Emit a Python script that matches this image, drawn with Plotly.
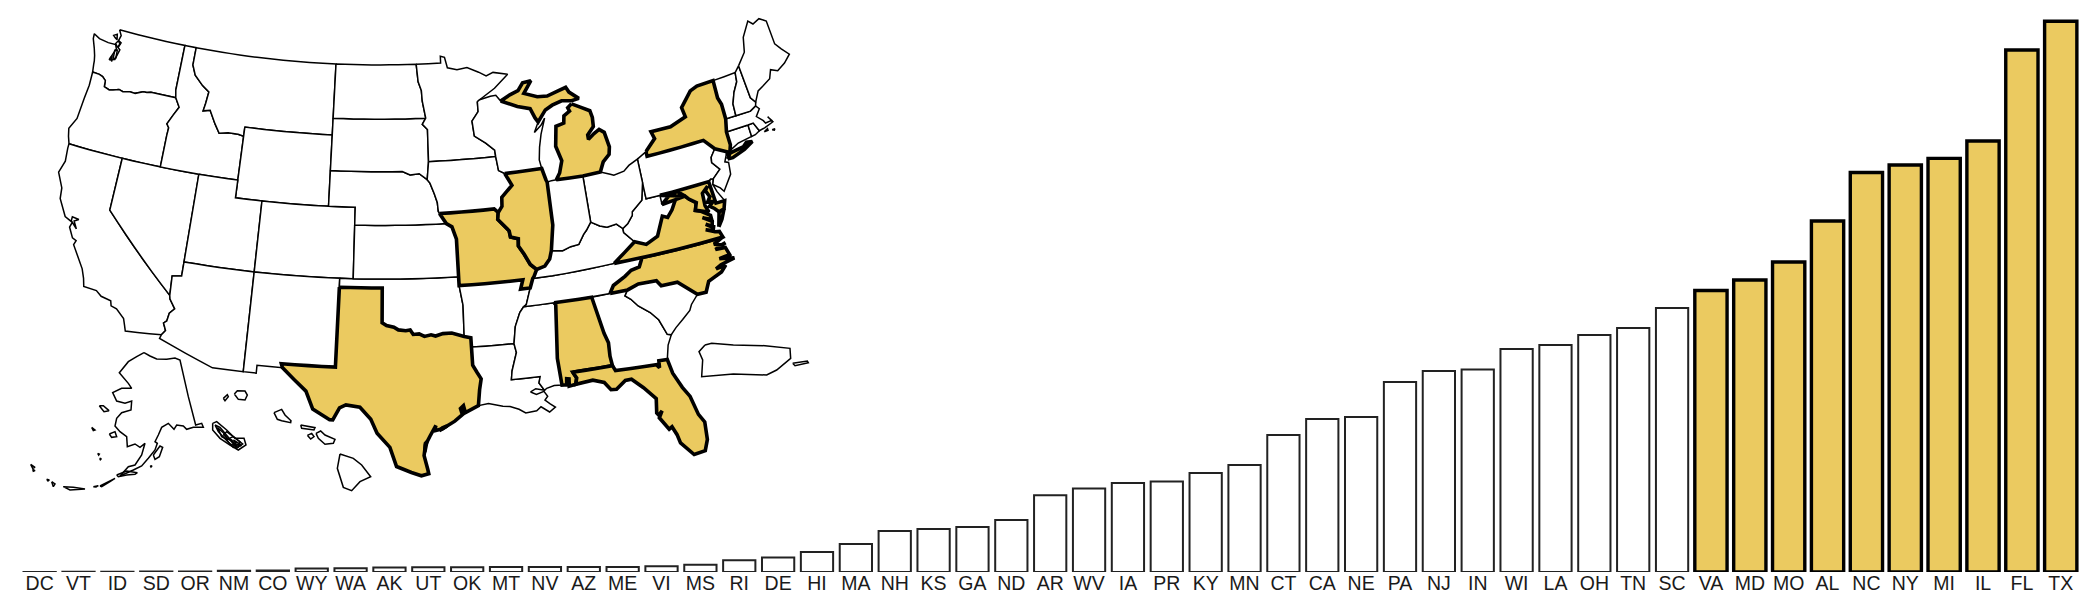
import numpy as np
import plotly.graph_objects as go

# ---------- bar data (height, in arbitrary units) ----------
CODES = ["DC","VT","ID","SD","OR","NM","CO","WY","WA","AK","UT","OK","MT","NV","AZ","ME","VI","MS","RI","DE","HI",
         "MA","NH","KS","GA","ND","AR","WV","IA","PR","KY","MN","CT","CA","NE","PA","NJ","IN","WI","LA","OH","TN","SC",
         "VA","MD","MO","AL","NC","NY","MI","IL","FL","TX"]
VALUES = [0.1,0.2,0.3,0.4,0.6,1.2,1.5,3.6,3.8,4.5,4.7,4.8,5,5,5,5,5.7,7.2,11.7,14.4,20,
          28,41,43,45,52,76.7,83.4,89,90.5,99,107,137,153,155,190,201,202.6,223,227,237,244,264,
          281.5,292,310,351,399.5,407,413.6,431,522,550.7]
HIGHLIGHT = ["VA","MD","MO","AL","NC","NY","MI","IL","FL","TX"]
GOLD = "#EBCA60"

# ---------- state outlines, lon/lat ----------
COL = [(-123.98,46.27),(-123.4,46.25),(-123.1,46.18),(-122.8,46.0),(-122.75,45.65),(-122.3,45.55),(-122.0,45.6),(-121.55,45.72),
       (-121.2,45.65),(-120.65,45.74),(-120.2,45.73),(-119.6,45.92),(-119.3,45.93),(-118.98,46.0),(-116.92,45.995)]
SNAKE = [(-116.92,45.995),(-116.5,45.5),(-116.85,45.0),(-117.2,44.45),(-117.0,44.25),(-117.03,43.8),(-117.03,42.0)]
IDMT = [(-116.05,48.0),(-115.7,47.45),(-114.95,46.95),(-114.35,46.65),(-114.45,46.0),(-114.55,45.55),(-114.0,45.65),(-113.45,44.95),(-113.0,44.45),(-112.3,44.55),(-111.5,44.55),(-111.05,44.48)]
LOWCO = [(-114.63,35.0),(-114.57,34.8),(-114.14,34.3),(-114.45,34.0),(-114.53,33.55),(-114.72,33.4),(-114.5,33.0),(-114.72,32.72)]
RED = [(-100,34.56),(-99.7,34.4),(-99.2,34.3),(-98.9,34.15),(-98.4,34.1),(-98.1,34.13),(-97.9,33.88),(-97.5,33.9),(-97.15,33.75),(-96.7,33.83),(-96.4,33.75),(-95.9,33.87),(-95.3,33.88),(-94.48,33.64)]
SABINE = [(-94.04,32.0),(-93.8,31.6),(-93.55,31.2),(-93.7,30.6),(-93.75,30.3),(-93.85,29.7)]
MORIV = [(-96.6,42.5),(-96.4,42.3),(-96.1,41.7),(-95.9,41.2),(-95.85,40.7),(-95.77,40.58)]
MISS1 = [(-92.75,44.75),(-91.9,44.3),(-91.25,43.85),(-91.22,43.5),(-91.1,42.7),(-90.65,42.5)]
MISS2 = [(-90.65,42.5),(-90.2,41.8),(-91.05,41.2),(-91.1,40.7),(-91.42,40.38)]
MISS3 = [(-91.42,40.38),(-91.5,40.0),(-90.75,39.3),(-90.7,38.95),(-90.15,38.8),(-90.2,38.4),(-89.85,37.9),(-89.5,37.3),(-89.1,36.98)]
MISS5 = [(-90.3,35.0),(-90.6,34.7),(-91.0,33.95),(-91.2,33.0)]
MISS6 = [(-91.2,33.0),(-91.1,32.5),(-91.5,31.5),(-91.6,31.0)]
OHIOW = [(-84.8,39.1),(-85.2,38.7),(-85.45,38.5),(-85.9,38.0),(-86.5,37.95),(-87.1,37.8),(-87.9,37.9)]
OHIOE = [(-82.6,38.4),(-83.0,38.72),(-83.7,38.65),(-84.2,38.8),(-84.8,39.1)]
OHIOC = [(-80.52,40.64),(-80.85,39.7),(-81.7,39.2),(-81.75,39.0),(-82.2,38.6),(-82.6,38.4)]
WAB = [(-87.9,37.9),(-88.1,37.45),(-88.5,37.1),(-89.1,36.98)]
NCTN = [(-81.68,36.59),(-82.0,36.12),(-82.6,36.03),(-83.1,35.77),(-84.0,35.4),(-84.32,35.0)]
GASC = [(-83.1,35.0),(-83.35,34.7),(-83.0,34.45),(-82.6,34.0),(-81.9,33.5),(-81.45,33.0),(-81.1,32.1),(-80.85,32.03)]
NCSC = [(-83.1,35.0),(-82.3,35.2),(-81.05,35.15),(-80.8,34.82),(-79.67,34.8),(-78.55,33.86)]
VAWV = [(-81.97,37.54),(-81.2,37.25),(-80.3,37.55),(-79.65,38.57),(-79.3,38.42),(-78.87,38.77),(-78.35,39.4),(-77.72,39.32)]
POTO = [(-76.3,37.9),(-76.95,38.3),(-77.25,38.4),(-77.05,38.8),(-77.5,39.1),(-77.72,39.32)]
WVMD = [(-77.72,39.32),(-78.2,39.68),(-78.8,39.6),(-79.48,39.2),(-79.48,39.72)]
DELR = [(-74.7,41.36),(-75.13,40.97),(-75.2,40.68),(-74.75,40.2),(-75.4,39.8)]
AL_GA = [(-85.6,34.98),(-85.18,32.87),(-85.0,32.3),(-85.05,31.55),(-85.0,31.0)]
VTNH = [(-71.5,45.01),(-71.6,44.5),(-72.05,44.0),(-72.4,43.4),(-72.46,42.73)]
R = lambda l: l[::-1]

STATES = {
 "WA": [[(-122.76,49.0),(-117.03,49.0),(-117.04,46.42)] + R(COL) + [(-124.07,46.7),(-124.1,46.9),(-124.2,47.2),(-124.4,47.6),(-124.7,48.1),(-124.73,48.38),(-124.2,48.2),(-123.4,48.12),(-122.76,48.13),(-122.6,47.9),(-122.75,47.6),(-122.95,47.2),(-122.5,47.3),(-122.4,47.6),(-122.3,47.9),(-122.5,48.0),(-122.35,48.3),(-122.6,48.4),(-122.5,48.7),(-122.76,49.0)],
        [(-122.65,47.3),(-122.45,47.4),(-122.5,47.85),(-122.7,47.8)],[(-122.55,48.0),(-122.42,48.22),(-122.62,48.38),(-122.78,48.18)],
        [(-122.95,48.5),(-122.75,48.42),(-122.85,48.72),(-123.12,48.6)],[(-122.9,47.3),(-122.7,47.15),(-122.8,47.45)]],
 "OR": [COL + SNAKE + [(-124.2,42.0),(-124.4,42.4),(-124.55,42.84),(-124.15,43.5),(-124.05,44.7),(-123.95,45.5)]],
 "CA": [[(-124.2,42.0),(-120,42),(-120,39)] + LOWCO + [(-117.12,32.53),(-117.25,32.85),(-117.4,33.2),(-118.0,33.65),(-118.4,33.75),(-118.5,34.03),(-119.2,34.15),(-119.6,34.4),(-120.5,34.45),(-120.65,34.9),(-120.9,35.4),(-121.9,36.6),(-121.8,36.85),(-122.1,36.95),(-122.5,37.5),(-122.4,37.8),(-122.0,37.5),(-122.3,37.9),(-122.0,38.05),(-122.5,38.1),(-122.5,37.83),(-123.0,38.0),(-123.7,38.9),(-123.8,39.5),(-124.35,40.3),(-124.1,41.0),(-124.2,41.75)]],
 "NV": [[(-120,42),(-114.04,42),(-114.05,36.2),(-114.7,36.1),(-114.63,35.0),(-120,39)]],
 "ID": [[(-117.03,49),(-116.05,49)] + IDMT + [(-111.05,42),(-117.03,42)] + R(SNAKE) + [(-117.04,46.42)]],
 "MT": [[(-116.05,49),(-104.05,49),(-104.05,45),(-111.05,45)] + R(IDMT)],
 "WY": [[(-111.05,45),(-104.05,45),(-104.05,41),(-111.05,41)]],
 "UT": [[(-114.05,42),(-111.05,42),(-111.05,41),(-109.05,41),(-109.05,37),(-114.05,37)]],
 "CO": [[(-109.05,41),(-102.05,41),(-102.05,37),(-109.05,37)]],
 "AZ": [[(-114.05,37),(-109.05,37),(-109.05,31.33),(-111.07,31.33),(-114.8,32.5)] + R(LOWCO) + [(-114.7,36.1),(-114.05,36.2)]],
 "NM": [[(-109.05,37),(-103.0,37),(-103.06,32.0),(-106.62,32.0),(-106.53,31.78),(-108.2,31.78),(-108.2,31.33),(-109.05,31.33)]],
 "TX": [[(-103.0,36.5),(-100,36.5)] + RED + [(-94.04,33.55),(-94.04,33.02)] + SABINE + [(-94.7,29.35),(-94.8,29.75),(-95.0,29.6),(-94.9,29.25),(-95.4,28.9),(-96.2,28.5),(-96.7,28.4),(-96.6,28.7),(-97.0,28.1),(-97.3,27.6),(-97.4,27.0),(-97.2,26.2),(-97.15,25.96),(-97.6,25.85),(-98.2,26.05),(-99.1,26.4),(-99.5,27.5),(-100.3,28.3),(-100.7,29.1),(-101.4,29.77),(-102.3,29.88),(-102.7,29.7),(-103.1,29.0),(-103.3,29.0),(-104.4,29.55),(-104.9,30.55),(-106.53,31.78),(-106.62,32.0),(-103.06,32.0)],
        [(-96.4,28.4),(-95.9,28.65),(-96.2,28.55)],[(-97.2,27.8),(-97.35,27.2),(-97.3,27.7)]],
 "OK": [[(-103,37),(-94.62,37),(-94.62,36.5),(-94.43,35.4)] + R(RED) + [(-100,36.5),(-103,36.5)]],
 "KS": [[(-102.05,40),(-95.3,40),(-94.9,39.8),(-94.62,39.1),(-94.62,37),(-102.05,37)]],
 "NE": [[(-104.05,43),(-98.5,43),(-97.9,42.8),(-97.2,42.85)] + MORIV + [(-95.3,40),(-102.05,40),(-102.05,41),(-104.05,41)]],
 "SD": [[(-104.05,45.94),(-96.56,45.94),(-96.85,45.6),(-96.45,45.3),(-96.45,43.5),(-96.6,42.5),(-97.2,42.85),(-97.9,42.8),(-98.5,43),(-104.05,43)]],
 "ND": [[(-104.05,49),(-97.23,49),(-97.1,48),(-96.85,47.5),(-96.8,46.9),(-96.56,45.94),(-104.05,45.94)]],
 "MN": [[(-97.23,49),(-95.15,49),(-95.15,49.38),(-94.8,49.3),(-94.6,48.7),(-93.8,48.55),(-92.95,48.62),(-92.0,48.3),(-91.4,48.05),(-90.8,48.2),(-89.6,48.0),(-90.8,47.3),(-92.1,46.75),(-92.3,46.65),(-92.3,46.1),(-92.85,45.6)] + MISS1[:4] + [(-96.45,43.5),(-96.45,45.3),(-96.85,45.6),(-96.56,45.94),(-96.8,46.9),(-96.85,47.5),(-97.1,48)]],
 "IA": [[(-96.45,43.5),(-91.22,43.5),(-91.1,42.7)] + MISS2 + [(-91.7,40.6)] + R(MORIV) + [(-96.6,42.5)]],
 "MO": [[(-95.77,40.58),(-91.7,40.6)] + MISS3 + [(-89.35,36.6),(-89.45,36.5),(-89.7,36.0),(-90.37,36.0),(-90.15,36.5),(-94.62,36.5),(-94.62,39.1),(-94.9,39.8),(-95.3,40)]],
 "AR": [[(-94.62,36.5),(-90.15,36.5),(-90.37,36.0),(-89.7,36.0),(-90.1,35.1)] + MISS5 + [(-94.04,33.02),(-94.04,33.55),(-94.48,33.64),(-94.43,35.4)]],
 "LA": [[(-94.04,33.02),(-91.2,33.0)] + MISS6[1:] + [(-89.73,31.0),(-89.85,30.65),(-89.55,30.2),(-90.1,30.35),(-90.45,30.2),(-90.1,30.03),(-89.6,30.15),(-89.4,29.85),(-89.6,29.65),(-89.3,29.4),(-89.0,29.18),(-89.4,28.95),(-89.9,29.3),(-90.2,29.1),(-90.9,29.05),(-91.3,29.3),(-91.85,29.5),(-92.3,29.55),(-93.2,29.78),(-93.85,29.7)] + R(SABINE)],
 "MS": [[(-90.3,35.0),(-88.2,35.0),(-88.1,34.9),(-88.47,31.9),(-88.4,30.37),(-88.9,30.4),(-89.4,30.3),(-89.55,30.2),(-89.85,30.65),(-89.73,31.0)] + R(MISS6) + R(MISS5)[1:]],
 "AL": [[(-88.2,35.0)] + AL_GA + [(-87.6,31.0),(-87.4,30.65),(-87.52,30.3),(-87.95,30.25),(-87.9,30.65),(-88.05,30.68),(-88.1,30.35),(-88.4,30.37),(-88.47,31.9),(-88.1,34.9)]],
 "GA": [AL_GA[:1] + [(-84.32,35.0),(-83.1,35.0)] + GASC[1:] + [(-81.2,31.5),(-81.45,30.72),(-82.0,30.75),(-82.05,30.36),(-82.2,30.57),(-84.86,30.7),(-85.0,31.0)] + R(AL_GA)[1:]],
 "FL": [[(-87.6,31),(-85,31),(-84.86,30.7),(-82.2,30.57),(-82.05,30.36),(-82.0,30.75),(-81.45,30.72),(-81.3,29.9),(-80.9,29.0),(-80.55,28.4),(-80.3,27.3),(-80.03,26.8),(-80.12,25.8),(-80.4,25.2),(-81.1,25.13),(-81.75,25.95),(-81.85,26.45),(-82.05,26.95),(-82.25,26.85),(-82.7,27.6),(-82.45,27.95),(-82.7,27.75),(-82.8,27.9),(-82.65,28.7),(-83.3,29.45),(-83.95,30.05),(-84.35,30.05),(-85.0,29.65),(-85.35,29.68),(-85.7,30.15),(-86.4,30.38),(-87.52,30.3),(-87.4,30.65)]],
 "SC": [NCSC + [(-79.1,33.4),(-79.3,33.1),(-79.9,32.7),(-80.45,32.35)] + R(GASC)],
 "NC": [R(NCTN) + [(-81.68,36.59),(-75.87,36.55),(-76.6,36.3),(-76.1,36.15),(-75.8,36.2),(-76.6,36.0),(-75.9,35.95),(-75.75,35.5),(-76.5,35.45),(-75.5,35.25),(-76.5,35.1),(-76.9,34.95),(-76.2,35.0),(-76.6,34.7),(-77.6,34.4),(-77.95,33.85),(-78.55,33.86)] + R(NCSC)],
 "TN": [[(-90.3,35.0),(-88.2,35.0),(-84.32,35.0)] + R(NCTN) + [(-83.67,36.6),(-88.05,36.5),(-89.45,36.5),(-89.7,36.0),(-90.1,35.1)]],
 "KY": [[(-89.45,36.5),(-88.05,36.5),(-83.67,36.6),(-81.97,37.54),(-82.6,38.17)] + OHIOE + OHIOW + WAB + [(-89.35,36.6)]],
 "VA": [[(-83.67,36.6),(-81.68,36.59),(-75.87,36.55),(-76.0,36.9),(-76.3,36.95),(-76.9,37.2),(-76.4,37.05),(-76.3,37.25),(-76.8,37.5),(-76.4,37.25),(-76.3,37.55),(-76.9,37.9),(-76.3,37.65)] + POTO + R(VAWV),
        [(-75.95,37.15),(-75.65,37.95),(-75.25,38.03),(-75.6,37.5)]],
 "WV": [VAWV + WVMD + [(-80.52,39.72)] + OHIOC + [(-82.6,38.17)]],
 "MD": [[(-79.48,39.72),(-75.79,39.72),(-75.7,38.46),(-75.05,38.45),(-75.25,38.03),(-75.65,37.95),(-75.9,38.2),(-76.2,38.4),(-75.85,38.6),(-76.25,38.65),(-76.0,38.9),(-76.2,39.3),(-75.95,39.5),(-76.45,39.2),(-76.5,38.5),(-76.35,38.1),(-76.95,38.3)] + POTO[2:] + R(WVMD)[1:]],
 "DE": [[(-75.79,39.72),(-75.6,39.83),(-75.4,39.8),(-75.55,39.5),(-75.4,39.05),(-75.05,38.45),(-75.7,38.46)]],
 "PA": [[(-80.52,41.98),(-79.76,42.27),(-79.76,42.0),(-75.35,42.0)] + DELR + [(-75.6,39.83),(-75.79,39.72),(-80.52,39.72)]],
 "NJ": [DELR[:1] + [(-73.9,41.0),(-74.25,40.5),(-74.0,40.4),(-74.1,39.75),(-74.9,38.95),(-75.1,39.2),(-75.55,39.5)] + R(DELR)[:-1]],
 "NY": [[(-79.76,42.27),(-78.9,42.85),(-79.05,43.27),(-77.5,43.25),(-76.2,43.55),(-76.3,44.1),(-75.3,44.85),(-74.7,45.0),(-73.35,45.0),(-73.4,44.0),(-73.25,43.6),(-73.27,42.75),(-73.5,42.05),(-73.5,41.3),(-73.65,41.0),(-73.9,40.8),(-73.9,41.0),(-74.7,41.36),(-75.35,42.0),(-79.76,42.0)],
        [(-74.0,40.6),(-73.7,40.87),(-72.6,40.97),(-72.3,41.15),(-71.87,41.07),(-72.6,40.8),(-73.6,40.58)]],
 "CT": [[(-73.65,41.0),(-73.5,41.3),(-73.5,42.05),(-71.8,42.02),(-71.8,41.35),(-72.9,41.25)]],
 "RI": [[(-71.8,42.02),(-71.38,42.02),(-71.12,41.5),(-71.5,41.37),(-71.8,41.35)]],
 "MA": [[(-73.5,42.05),(-73.27,42.75),(-72.46,42.73),(-71.3,42.7),(-70.8,42.87),(-70.6,42.65),(-71.0,42.3),(-70.6,41.95),(-70.5,41.78),(-70.0,41.8),(-70.2,42.07),(-69.95,41.7),(-70.65,41.55),(-71.12,41.5),(-71.38,42.02),(-71.8,42.02)],
        [(-70.8,41.35),(-70.5,41.45),(-70.5,41.35)], [(-70.2,41.3),(-69.98,41.3),(-70.05,41.24)]],
 "VT": [[(-73.35,45),(-71.5,45.01)] + VTNH[1:] + [(-73.27,42.75),(-73.25,43.6),(-73.4,44)]],
 "NH": [VTNH[:1] + [(-71.08,45.3),(-70.98,43.4),(-70.7,43.07),(-70.8,42.87),(-71.3,42.7)] + R(VTNH)[:-1]],
 "ME": [[(-71.08,45.3),(-70.3,45.9),(-70.0,46.7),(-69.22,47.46),(-68.9,47.2),(-68.3,47.35),(-67.8,47.07),(-67.8,45.7),(-67.45,45.3),(-67.0,44.85),(-67.6,44.5),(-68.3,44.25),(-68.8,44.45),(-69.1,44.0),(-69.8,43.75),(-70.25,43.6),(-70.7,43.07),(-70.98,43.4)]],
 "OH": [R(OHIOE) + R(OHIOC) + [(-80.52,41.98),(-81.25,41.75),(-81.7,41.5),(-82.5,41.4),(-82.75,41.5),(-83.45,41.73),(-84.8,41.7)]],
 "IN": [[(-87.53,41.7),(-87.2,41.75),(-86.82,41.76),(-84.8,41.7)] + OHIOW + [(-87.55,39.3)]],
 "IL": [[(-90.65,42.5),(-87.8,42.5),(-87.6,41.85),(-87.53,41.7),(-87.55,39.3),(-87.9,37.9)] + WAB + R(MISS3) + R(MISS2)[:-1]],
 "WI": [[(-92.3,46.65),(-92.1,46.75),(-91.2,46.88),(-90.75,46.9),(-90.4,46.55),(-89.1,46.13),(-88.1,45.9),(-87.8,45.35),(-87.6,45.1),(-88.0,44.55),(-87.4,44.9),(-87.05,45.25),(-87.5,44.4),(-87.75,43.7),(-87.9,43.0),(-87.8,42.5)] + R(MISS1) + [(-92.85,45.6),(-92.3,46.1)]],
 "MI": [[(-90.4,46.55),(-89.6,46.83),(-88.9,47.0),(-88.45,47.4),(-87.75,47.45),(-88.45,46.8),(-87.4,46.5),(-86.6,46.45),(-85.0,46.75),(-84.8,46.45),(-84.1,46.0),(-84.7,45.95),(-85.5,46.05),(-86.3,45.9),(-86.9,45.7),(-87.6,45.1),(-87.8,45.35),(-88.1,45.9),(-89.1,46.13)],
        [(-84.75,45.78),(-84.1,45.5),(-83.4,45.2),(-83.3,44.8),(-83.35,44.3),(-83.9,43.9),(-83.9,43.65),(-83.4,43.9),(-82.95,44.07),(-82.6,43.85),(-82.42,43.0),(-82.55,42.6),(-83.1,42.25),(-83.45,41.73),(-84.8,41.7),(-86.82,41.76),(-86.5,42.1),(-86.2,42.75),(-86.5,43.6),(-86.25,44.7),(-85.6,44.8),(-85.5,45.2),(-85.0,45.4),(-85.1,45.6)]],
}

# reference marks: lon, lat, canvas x, canvas y
TIE_POINTS = [(-124.73,48.38,97,32),(-122.76,49,121,28),(-95.15,49,440,65),(-69.22,47.46,753,19),(-67,44.85,787,57),
 (-97.15,25.96,430,473),(-81.1,25.13,690,456),(-124.35,40.3,57,172),(-117.12,32.53,127,333),(-106.53,31.78,283,365),
 (-103,36.5,339,288),(-75.87,36.55,728,238),(-111.05,45,244,128),(-104.05,45,331,135),(-111.05,41,235,199),
 (-102.05,41,355,208),(-102.05,37,353,279),(-109.05,37,254,272),(-114.05,42,198,175),(-120,42,121,159),(-120,39,109,211),
 (-114.63,35,170,295),(-96.45,43.5,427,163),(-91.22,43.5,495,158),(-95.77,40.58,440,213),(-94.62,36.5,458,277),
 (-88.1,34.9,557,303),(-85.6,34.98,593,298),(-85,31,613,369),(-87.6,31,573,372),(-84.8,41.7,585,178),(-80.52,41.98,639,160),
 (-75.35,42,702,143),(-73.35,45,712,82),(-71.08,45.3,733,68),(-73.5,42.05,727,120)]

# Alaska, read in a 3x view whose corner is at canvas (20, 340)
AK_MAIN = [(372,38),(390,48),(410,57),(440,58),(465,54),(480,60),(505,170),(527,255),(545,250),(550,262),(520,262),(500,268),(490,258),(470,255),(462,268),(445,250),(425,262),(415,285),(405,305),(412,310),(405,330),(385,355),(365,378),(340,390),(300,408),(325,380),(345,375),(365,345),(375,310),(360,322),(345,312),(322,320),(320,290),(300,275),(285,258),(290,235),(305,218),(333,210),(335,183),(315,190),(290,183),(278,158),(305,145),(335,145),(325,130),(298,98),(325,65),(350,50)]
AK_ISLES = [[(578,250),(590,245),(620,270),(645,295),(672,295),(678,315),(655,330),(630,315),(600,295),(578,270)],
 [(585,255),(600,262),(640,310),(650,320),(640,322),(595,275)],[(610,285),(620,275),(660,305),(655,320)],[(628,295),(640,290),(668,312),(650,325)],
 [(592,262),(610,278),(625,300),(605,290)],[(615,295),(635,300),(648,318),(630,312)],[(640,300),(660,312),(664,318),(648,312)],
 [(400,345),(420,318),(428,322),(418,350),(405,358)],[(238,197),(250,197),(267,212),(252,215)],[(268,282),(285,275),(290,290),(275,292)],
 [(290,405),(320,393),(352,398),(345,403),(320,405),(295,410)],[(240,438),(285,415),(270,425),(245,440)],[(220,440),(235,437),(228,441)],
 [(130,440),(160,442),(195,447),(150,450)],[(80,418),(88,420),(84,423)],[(95,425),(105,432),(100,440)],[(32,373),(45,382),(38,385)],
 [(38,388),(45,392),(40,394)],[(233,340),(238,342),(236,345)],[(239,355),(244,356),(241,359)],[(391,377),(396,378),(393,381)],[(215,262),(225,270),(220,272)]]
# Hawaii, read in a 3x view whose corner is at canvas (0, 280)
HI_ISLES = [[(703,342),(712,332),(735,333),(742,345),(735,360),(715,358)],[(670,355),(682,344),(685,350),(675,362)],
 [(822,398),(845,388),(855,405),(873,422),(872,428),(845,422),(832,418)],[(902,435),(945,443),(942,450),(905,445)],
 [(922,466),(935,460),(942,470),(932,477)],[(948,460),(962,453),(975,465),(1005,478),(1000,490),(975,493),(955,475)],
 [(1020,522),(1060,535),(1085,555),(1112,590),(1080,605),(1055,632),(1030,622),(1012,565)]]
# Puerto Rico, read in a 3x view whose corner is at canvas (400, 280)
PR_ISLES = [[(915,195),(935,190),(1000,195),(1095,197),(1170,205),(1172,235),(1130,270),(1100,285),(1000,282),(905,290),(908,240),(897,215)],
 [(1178,250),(1222,243),(1225,248),(1185,257)]]


def albers(lon, lat):
    p1, p2, lat0, lon0 = map(np.radians, (29.5, 45.5, 37.5, -96.0))
    n = (np.sin(p1) + np.sin(p2)) / 2
    c = np.cos(p1) ** 2 + 2 * n * np.sin(p1)
    rho0 = np.sqrt(c - 2 * n * np.sin(lat0)) / n
    th = n * (np.radians(lon) - lon0)
    rho = np.sqrt(c - 2 * n * np.sin(np.radians(lat))) / n
    return rho * np.sin(th), rho0 - rho * np.cos(th)


def basis(x, y):
    return np.column_stack([np.ones_like(x), x, y, x * x, x * y, y * y])


tp = np.array(TIE_POINTS, float)
_X, _Y = albers(tp[:, 0], tp[:, 1])
CX = np.linalg.lstsq(basis(_X, _Y), tp[:, 2], rcond=None)[0]
CY = np.linalg.lstsq(basis(_X, _Y), tp[:, 3], rcond=None)[0]


def project(ring):
    pts = []
    ring = list(ring) + [ring[0]]
    for a, b in zip(ring[:-1], ring[1:]):
        k = max(1, int(abs(a[0] - b[0]) / 0.75))
        for t in np.arange(k) / k:
            pts.append((a[0] + (b[0] - a[0]) * t, a[1] + (b[1] - a[1]) * t))
    pts.append(ring[-1])
    arr = np.array(pts, float)
    X, Y = albers(arr[:, 0], arr[:, 1])
    B = basis(X, Y)
    return list(B @ CX), list(B @ CY)


def inset(rings, x0, y0):
    xs, ys = [], []
    for r in rings:
        a = np.array(list(r) + [r[0]], float)
        xs += list(a[:, 0] / 3 + x0) + [None]
        ys += list(a[:, 1] / 3 + y0) + [None]
    return xs, ys


def state_xy(rings):
    xs, ys = [], []
    for r in rings:
        x, y = project(r)
        xs += x + [None]
        ys += y + [None]
    return xs, ys


fig = go.Figure()
fig.add_trace(go.Bar(
    x=CODES, y=VALUES, width=0.83,
    marker=dict(color=[GOLD if c in HIGHLIGHT else "white" for c in CODES],
                line=dict(color=["#000000" if c in HIGHLIGHT else "#222222" for c in CODES],
                          width=[3.4 if c in HIGHLIGHT else 2 for c in CODES])),
    hoverinfo="x+y", xaxis="x", yaxis="y", showlegend=False))


def add_shape_trace(x, y, gold):
    fig.add_trace(go.Scatter(x=x, y=y, mode="lines", fill="toself", fillcolor=GOLD if gold else "white",
                             line=dict(color="black", width=3.6 if gold else 1.5, simplify=False),
                             hoverinfo="skip", showlegend=False, xaxis="x2", yaxis="y2"))


for name, rings in STATES.items():
    if name not in HIGHLIGHT:
        add_shape_trace(*state_xy(rings), False)
add_shape_trace(*inset([AK_MAIN] + AK_ISLES, 20, 340), False)
add_shape_trace(*inset(HI_ISLES, 0, 280), False)
add_shape_trace(*inset(PR_ISLES, 400, 280), False)
for name, rings in STATES.items():
    if name in HIGHLIGHT:
        add_shape_trace(*state_xy(rings), True)

fig.update_layout(
    width=2100, height=600, margin=dict(l=0, r=0, t=0, b=0), paper_bgcolor="white", plot_bgcolor="rgba(0,0,0,0)",
    bargap=0.17,
    font=dict(family="Liberation Sans, Arial, sans-serif", size=19.5, color="#1a1a1a"),
    xaxis=dict(domain=[0, 1], range=[-1.02, 53.01], type="category", categoryorder="array", categoryarray=CODES,
               tickmode="array", tickvals=CODES, ticktext=CODES, tickangle=0, ticks="", showline=False, showgrid=False,
               zeroline=False, tickfont=dict(size=19.5), automargin=False, anchor="y", ticklabelstandoff=-3),
    yaxis=dict(domain=[1 - 572 / 600, 1], range=[0, 572], visible=False, showgrid=False, zeroline=False, anchor="x"),
    xaxis2=dict(domain=[0, 1], range=[0, 2100], visible=False, anchor="y2"),
    yaxis2=dict(domain=[0, 1], range=[600, 0], visible=False, anchor="x2"),
)
fig.write_html("out.html", config={"displayModeBar": False}, post_script="document.body.style.margin='0';")
